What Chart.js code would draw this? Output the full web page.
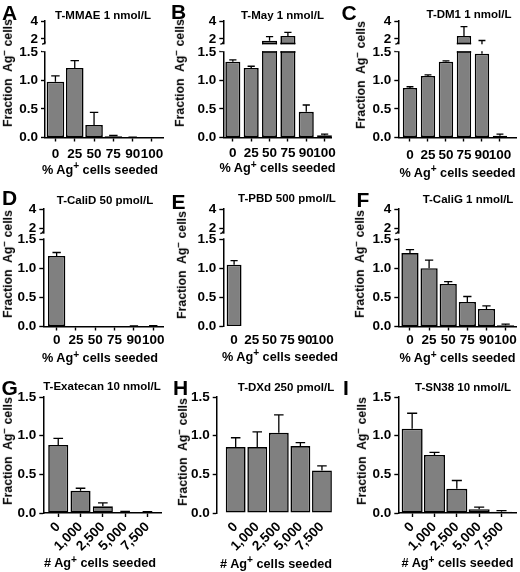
<!DOCTYPE html>
<html><head><meta charset="utf-8">
<script src="https://cdn.jsdelivr.net/npm/chart.js@4/dist/chart.umd.min.js"></script>
<style>
html,body{margin:0;padding:0;background:#fff;}
#wrap{position:relative;width:520px;height:572px;overflow:hidden;font-family:'Liberation Sans',Arial,Helvetica,sans-serif;color:#000;}
.box{position:absolute;}
.lt{position:absolute;font-weight:bold;font-size:21px;line-height:1;}
.tt{position:absolute;font-weight:bold;font-size:11.5px;line-height:1;white-space:nowrap;transform:translate(-50%,-50%);}
.ax{position:absolute;font-weight:bold;font-size:12.7px;line-height:1;white-space:nowrap;}
.ax.v{font-size:12.3px;}
.ax .sp{font-size:0.8em;position:relative;top:-0.45em;}
</style></head><body><div id="wrap"></div>
<script>
// ---------- data ----------
const pctCategories = ['0', '25', '50', '75', '90', '100'];
const numCategories = ['0', '1,000', '2,500', '5,000', '7,500'];
const brokenTickValues = [0, 0.5, 1, 1.5, 2, 4];
const brokenTickLabels = ['0.0', '0.5', '1.0', '1.5', '2', '4'];
const plainTickValues = [0, 0.5, 1, 1.5];
const plainTickLabels = ['0.0', '0.5', '1.0', '1.5'];

const mmaeValues = [0.98, 1.22, 0.22, 0.02, 0.005, 0.003];
const mmaeErrors = [0.10, 0.13, 0.22, 0.015, 0.003, 0];
const mayValues = [1.33, 1.22, 1.81, 2.33, 0.45, 0.04];
const mayErrors = [0.03, 0.03, 0.45, 0.41, 0.12, 0.02];
const dm1Values = [0.87, 1.08, 1.33, 2.33, 1.47, 0.03];
const dm1Errors = [0.02, 0.02, 0.015, 1.04, 0.36, 0.03];
const calidValues = [1.21, 0, 0, 0, 0.005, 0.008];
const calidErrors = [0.06, 0, 0, 0, 0.005, 0.007];
const pbdValues = [1.06, 0, 0, 0, 0, 0];
const pbdErrors = [0.07, 0, 0, 0, 0, 0];
const caligValues = [1.26, 1.0, 0.73, 0.42, 0.30, 0.02];
const caligErrors = [0.06, 0.14, 0.04, 0.095, 0.055, 0.02];
const exatecanValues = [0.88, 0.287, 0.086, 0.013, 0.008];
const exatecanErrors = [0.084, 0.033, 0.044, 0.007, 0.009];
const dxdValues = [0.853, 0.853, 1.037, 0.866, 0.55];
const dxdErrors = [0.12, 0.197, 0.233, 0.044, 0.06];
const sn38Values = [1.09, 0.75, 0.313, 0.05, 0.017];
const sn38Errors = [0.2, 0.034, 0.107, 0.027, 0.013];

// axis titles: [before superscript, superscript, after]
const yTitleParts = ['Fraction\u00A0 Ag', '\u2212', ' cells'];
const xTitlePctParts = ['% Ag', '+', ' cells seeded'];
const xTitleNumParts = ['# Ag', '+', ' cells seeded'];

// ---------- broken axis scale ----------
class BrokenScale extends Chart.LinearScale {
  static id = 'broken';
  static defaults = {};
  getPixelForValue(v) {
    if (v === null || v === undefined || isNaN(v)) return NaN;
    const b = this.options.brk;
    let d;
    if (v <= b.lowMax) d = (v - this.min) / (b.lowMax - this.min) * b.lowFrac;
    else d = b.highStart + (v - b.highMin) / (b.highMax - b.highMin) * (1 - b.highStart);
    return this.getPixelForDecimal(d);
  }
  getValueForPixel(px) {
    const b = this.options.brk;
    const d = this.getDecimalForPixel(px);
    if (d <= b.lowFrac) return this.min + d / b.lowFrac * (b.lowMax - this.min);
    return b.highMin + (d - b.highStart) / (1 - b.highStart) * (b.highMax - b.highMin);
  }
}
Chart.register(BrokenScale);

Chart.defaults.font.family = "'Liberation Sans', Arial, Helvetica, sans-serif";
Chart.defaults.color = '#000';

const brkTop = {lowMax: 1.5, highMin: 1.5, highMax: 4, lowFrac: 0.734, highStart: 0.807};
const brkMid = {lowMax: 1.5, highMin: 1.5, highMax: 4, lowFrac: 0.744, highStart: 0.797};

// ---------- panel layout ----------
const panels = [
  {id:'A', title:'T-MMAE 1 nmol/L', cats:pctCategories, vals:mmaeValues, errs:mmaeErrors, brk:brkTop, xTitle:xTitlePctParts,
   L:0, T:0, W:170, H:185, x0:45, x1:163, y0:21, y1:137.5, xmin:-0.54, xmax:5.57, bar:0.91, axisX:true, rot:0, xPad:4.4,
   xt:[100,170], yt:[8,73.3], letter:[2,2], tpos:[103,16]},
  {id:'B', title:'T-May 1 nmol/L', cats:pctCategories, vals:mayValues, errs:mayErrors, brk:brkTop, xTitle:xTitlePctParts,
   L:170, T:0, W:170, H:185, x0:223.3, x1:336.7, y0:21, y1:137.5, xmin:-0.52, xmax:5.39, bar:0.82, axisX:true, rot:0, xPad:3.9,
   xt:[277.5,168.3], yt:[180,73], letter:[171,0.7], tpos:[282.5,16]},
  {id:'C', title:'T-DM1 1 nmol/L', cats:pctCategories, vals:dm1Values, errs:dm1Errors, brk:brkTop, xTitle:xTitlePctParts,
   L:340, T:0, W:180, H:185, x0:398.3, x1:516.7, y0:21, y1:137.5, xmin:-0.65, xmax:5.93, bar:0.8, axisX:true, rot:0, xPad:5.6,
   xt:[457.5,173], yt:[360.7,75], letter:[341.5,2], tpos:[469,15]},
  {id:'D', title:'T-CaliD 50 pmol/L', cats:pctCategories, vals:calidValues, errs:calidErrors, brk:brkMid, xTitle:xTitlePctParts,
   L:0, T:185, W:170, H:185, x0:43.3, x1:163.3, y0:209, y1:326.5, xmin:-0.69, xmax:5.52, bar:0.9, axisX:true, rot:0, xPad:1.9,
   xt:[100,358.3], yt:[7.5,264], letter:[2,187], tpos:[105,201]},
  {id:'E', title:'T-PBD 500 pmol/L', cats:pctCategories, vals:pbdValues, errs:pbdErrors, brk:brkMid, xTitle:xTitlePctParts,
   L:170, T:185, W:170, H:185, x0:223.3, x1:335, y0:209, y1:326.5, xmin:-0.61, xmax:5.26, bar:0.84, axisX:false, rot:0, xPad:5.9,
   xt:[280,356.7], yt:[182,265], letter:[171.5,190.5], tpos:[287,199]},
  {id:'F', title:'T-CaliG 1 nmol/L', cats:pctCategories, vals:caligValues, errs:caligErrors, brk:brkMid, xTitle:xTitlePctParts,
   L:340, T:185, W:180, H:185, x0:398.3, x1:516.7, y0:209, y1:326.5, xmin:-0.61, xmax:5.58, bar:0.9, axisX:true, rot:0, xPad:1.9,
   xt:[457.5,358.3], yt:[360,264], letter:[356.5,189], tpos:[468,200]},
  {id:'G', title:'T-Exatecan 10 nmol/L', cats:numCategories, vals:exatecanValues, errs:exatecanErrors, brk:null, xTitle:xTitleNumParts,
   L:0, T:372, W:170, H:200, x0:43.3, x1:161.7, y0:397, y1:513, xmin:-0.67, xmax:4.64, bar:0.9, axisX:true, rot:45, xPad:2,
   xt:[100,563.3], yt:[8,450.5], letter:[1.5,377], tpos:[102,386.5]},
  {id:'H', title:'T-DXd 250 pmol/L', cats:numCategories, vals:dxdValues, errs:dxdErrors, brk:null, xTitle:xTitleNumParts,
   L:170, T:372, W:170, H:200, x0:216.7, x1:333.3, y0:397, y1:513, xmin:-0.88, xmax:4.47, bar:0.92, axisX:false, rot:45, xPad:6,
   xt:[276,564], yt:[183,452], letter:[173,377], tpos:[286,387.5]},
  {id:'I', title:'T-SN38 10 nmol/L', cats:numCategories, vals:sn38Values, errs:sn38Errors, brk:null, xTitle:xTitleNumParts,
   L:340, T:372, W:180, H:200, x0:398.3, x1:516.7, y0:397, y1:513, xmin:-0.62, xmax:4.68, bar:0.94, axisX:true, rot:45, xPad:2,
   xt:[457.5,563.3], yt:[362,451], letter:[343,377], tpos:[463,387.5]}
];

const TICK_FONT = {size: 13.5, weight: 'bold'};

function overlayPlugin(p) {
  return {
    id: 'overlay' + p.id,
    afterDatasetsDraw(chart) {
      const ctx = chart.ctx, y = chart.scales.y, area = chart.chartArea;
      const meta = chart.getDatasetMeta(0);
      ctx.save();
      ctx.strokeStyle = '#000';
      ctx.lineWidth = 1.3;
      meta.data.forEach((bar, i) => {
        const e = p.errs[i], v = p.vals[i];
        if (!(e > 0)) return;
        const {x, width} = bar.getProps(['x', 'width'], true);
        const yb = y.getPixelForValue(v), yt = y.getPixelForValue(v + e);
        const c = width * 0.24;
        ctx.beginPath();
        ctx.moveTo(x, yb); ctx.lineTo(x, yt);
        ctx.moveTo(x - c, yt); ctx.lineTo(x + c, yt);
        ctx.stroke();
      });
      if (p.brk) {
        const yLow = y.getPixelForValue(p.brk.lowMax);
        const yHigh = y.getPixelForDecimal(p.brk.highStart);
        ctx.fillStyle = '#fff';
        ctx.fillRect(area.left - 3, yHigh + 0.8, area.right - area.left + 5, yLow - yHigh - 1.6);
        ctx.lineWidth = 1.6;
        meta.data.forEach((bar, i) => {
          if (p.vals[i] > p.brk.lowMax) {
            const {x, width} = bar.getProps(['x', 'width'], true);
            ctx.beginPath();
            ctx.moveTo(x - width / 2, yLow); ctx.lineTo(x + width / 2, yLow);
            ctx.moveTo(x - width / 2, yHigh); ctx.lineTo(x + width / 2, yHigh);
            ctx.stroke();
          }
        });
        ctx.lineWidth = 1.4;
        ctx.beginPath();
        ctx.moveTo(area.left, yHigh - 2);
        ctx.quadraticCurveTo(area.left, yHigh + 0.6, area.left - 3, yHigh + 0.6);
        ctx.stroke();
      }
      ctx.restore();
    }
  };
}

function addAxisTitle(parts, cx, cy, vertical) {
  const d = document.createElement('div');
  d.className = vertical ? 'ax v' : 'ax';
  d.appendChild(document.createTextNode(parts[0]));
  const s = document.createElement('span');
  s.className = 'sp';
  s.textContent = parts[1];
  d.appendChild(s);
  d.appendChild(document.createTextNode(parts[2]));
  d.style.left = cx + 'px';
  d.style.top = cy + 'px';
  d.style.transform = vertical ? 'translate(-50%,-50%) rotate(-90deg)' : 'translate(-50%,-50%)';
  wrap.appendChild(d);
}

const wrap = document.getElementById('wrap');
panels.forEach(p => {
  const box = document.createElement('div');
  box.className = 'box';
  box.style.cssText = `left:${p.L}px;top:${p.T}px;width:${p.W}px;height:${p.H}px;`;
  const cv = document.createElement('canvas');
  box.appendChild(cv);
  wrap.appendChild(box);

  const yTickVals = p.brk ? brokenTickValues : plainTickValues;
  const yTickLabs = p.brk ? brokenTickLabels : plainTickLabels;

  const yScale = {
    type: p.brk ? 'broken' : 'linear',
    min: 0,
    max: p.brk ? 4 : 1.5,
    afterBuildTicks: s => { s.ticks = yTickVals.map(v => ({value: v})); },
    afterFit: s => { s.width = p.x0 - p.L; },
    ticks: {callback: (v, i) => yTickLabs[i], font: TICK_FONT, color: '#000', padding: 3, autoSkip: false},
    grid: {display: true, drawOnChartArea: false, drawTicks: true, tickLength: 4, tickWidth: 1.4, color: '#000'},
    border: {display: true, color: '#000', width: 1.5},
    title: {display: false}
  };
  if (p.brk) yScale.brk = p.brk;

  const xScale = {
    type: 'linear',
    min: p.xmin,
    max: p.xmax,
    offset: false,
    afterBuildTicks: s => { s.ticks = p.cats.map((c, i) => ({value: i})); },
    afterFit: s => { s.height = p.T + p.H - p.y1; },
    ticks: {callback: (v, i) => p.cats[i], font: TICK_FONT, color: '#000', padding: p.xPad, autoSkip: false,
            minRotation: p.rot, maxRotation: p.rot},
    grid: {display: p.axisX, offset: false, drawOnChartArea: false, drawTicks: p.axisX, tickLength: 4, tickWidth: 1.4, color: '#000'},
    border: {display: p.axisX, color: '#000', width: 1.5},
    title: {display: false}
  };

  new Chart(cv, {
    type: 'bar',
    data: {
      datasets: [{
        data: p.vals.map((v, i) => ({x: i, y: v})),
        backgroundColor: '#808080',
        borderColor: '#000',
        borderWidth: 1.6,
        borderSkipped: false,
        barPercentage: p.bar,
        categoryPercentage: 1
      }]
    },
    options: {
      responsive: true,
      maintainAspectRatio: false,
      animation: false,
      events: [],
      layout: {padding: {left: 0, top: p.y0 - p.T, right: p.L + p.W - p.x1, bottom: 0}},
      plugins: {legend: {display: false}, tooltip: {enabled: false}, title: {display: false}},
      scales: {x: xScale, y: yScale}
    },
    plugins: [overlayPlugin(p)]
  });

  const lt = document.createElement('div');
  lt.className = 'lt';
  lt.textContent = p.id;
  lt.style.left = p.letter[0] + 'px';
  lt.style.top = p.letter[1] + 'px';
  wrap.appendChild(lt);

  const tt = document.createElement('div');
  tt.className = 'tt';
  tt.textContent = p.title;
  tt.style.left = p.tpos[0] + 'px';
  tt.style.top = p.tpos[1] + 'px';
  wrap.appendChild(tt);

  addAxisTitle(p.xTitle, p.xt[0], p.xt[1], false);
  addAxisTitle(yTitleParts, p.yt[0], p.yt[1], true);
});
</script>
</body></html>
